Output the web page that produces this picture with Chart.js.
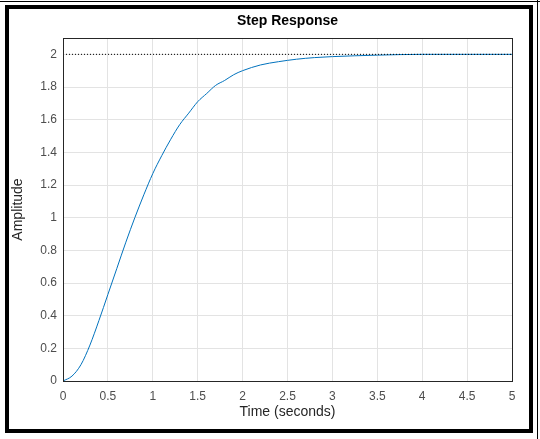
<!DOCTYPE html><html><head><script src="https://cdn.jsdelivr.net/npm/chart.js"></script>
<style>html,body{margin:0;padding:0;background:#fff}#w{position:relative;width:540px;height:439px}</style></head><body><div id="w"><canvas id="c" width="540" height="439"></canvas></div>
<script>
const times=[0,0.1,0.2,0.3,0.4,0.5,0.6,0.7,0.8,0.9,1.0,1.1,1.2,1.3,1.4,1.5,1.6,1.7,1.8,1.9,2.0,2.2,2.4,2.6,2.8,3.0,3.5,4.0,4.5,5.0];
const amplitude=[0,0.03,0.10,0.22,0.37,0.53,0.69,0.85,1.00,1.14,1.27,1.38,1.48,1.57,1.64,1.71,1.76,1.81,1.84,1.875,1.90,1.935,1.955,1.97,1.98,1.986,1.995,2.0,2.0,2.0];
const finalValue=[2,2];
const finalTimes=[0,5];
const xTicks=[0,0.5,1,1.5,2,2.5,3,3.5,4,4.5,5];
const yTicks=[0,0.2,0.4,0.6,0.8,1,1.2,1.4,1.6,1.8,2];
const font={family:'"Liberation Sans",Arial',size:12};
const deco={id:'deco',afterDraw(ch){const c=ch.ctx,a=ch.chartArea;c.save();
c.strokeStyle='#262626';c.lineWidth=1;c.strokeRect(a.left+0.5,a.top+0.5,a.right-a.left,a.bottom-a.top);
c.strokeStyle='#000';c.lineWidth=4;c.strokeRect(7,7,524,424);
c.lineWidth=1;c.beginPath();c.moveTo(0,1.5);c.lineTo(540,1.5);c.moveTo(537.5,0);c.lineTo(537.5,439);c.stroke();
c.fillStyle='#000';c.font='bold 14px "Liberation Sans",Arial';c.textAlign='center';c.textBaseline='middle';c.fillText('Step Response',(a.left+a.right)/2,21);c.restore();}};
new Chart(document.getElementById('c'),{type:'line',
data:{datasets:[
{data:finalTimes.map((t,i)=>({x:t,y:finalValue[i]})),borderColor:'#000',borderWidth:1,borderDash:[1,2],pointRadius:0},
{data:times.map((t,i)=>({x:t,y:amplitude[i]})),borderColor:'#0072bd',borderWidth:1,pointRadius:0,cubicInterpolationMode:'monotone'}]},
options:{responsive:false,animation:false,layout:{padding:{top:38,right:28,left:6,bottom:14}},
plugins:{legend:{display:false},tooltip:{enabled:false}},
scales:{
x:{type:'linear',min:0,max:5,afterBuildTicks:s=>{s.ticks=xTicks.map(v=>({value:v}))},afterFit:s=>{s.height=44},
grid:{color:'#e3e3e3',drawTicks:false},border:{display:false},
ticks:{color:'#4d4d4d',font,padding:8,callback:v=>String(v)},
title:{display:true,text:'Time (seconds)',color:'#262626',font:{family:font.family,size:14},padding:{top:0}}},
y:{min:0,max:2.1,afterBuildTicks:s=>{s.ticks=yTicks.map(v=>({value:v}))},afterFit:s=>{s.width=57},
grid:{color:'#e3e3e3',drawTicks:false},border:{display:false},
ticks:{color:'#4d4d4d',font,padding:6,callback:v=>String(Math.round(v*10)/10)},
title:{display:true,text:'Amplitude',color:'#262626',font:{family:font.family,size:14},padding:{bottom:4}}}}},
plugins:[deco]});
</script></body></html>
